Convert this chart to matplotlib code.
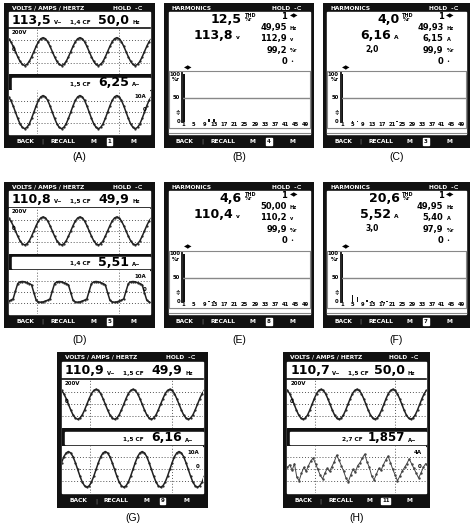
import numpy as np
import matplotlib
matplotlib.use("Agg")
import matplotlib.pyplot as plt
from matplotlib.patches import Rectangle

W, H = 474, 527
fig = plt.figure(figsize=(W/100, H/100), dpi=100)
fig.patch.set_facecolor("white")
FN = ["DejaVu Sans"]

# ---------------- data ----------------
sine_cycle = [0, 0.38, 0.71, 0.92, 1, 0.92, 0.71, 0.38, 0, -0.38, -0.71, -0.92, -1, -0.92, -0.71, -0.38]
dist_cycle = [0.05, 0.5, 0.6, 0.62, 0.6, 0.55, 0.5, 0.42, -0.05, -0.5, -0.6, -0.62, -0.6, -0.55, -0.5, -0.42]
noisy_current = [0.1, 0.25, -0.05, 0.3, -0.4, -0.6, -0.2, 0.1, -0.1, 0.2, 0.45, 0.6, 0.3, 0.0, -0.3, -0.5, -0.2,
                 0.05, -0.1, 0.15, 0.4, 0.75, 0.5, 0.2, -0.1, -0.45, -0.65, -0.3, 0.0, -0.15, 0.2, 0.35, 0.6,
                 0.8, 0.4, 0.1, -0.35, -0.55, -0.25, 0.05, -0.05, 0.25, 0.5, 0.7, 0.35, 0.0, -0.3, -0.6,
                 -0.35, -0.1, 0.1, 0.3, 0.55, 0.3, 0.05, -0.2, -0.45, -0.2, 0.1, 0.3]

volts_panels = {
    "A": dict(v="113,5", cf1="1,4 CF", hz="50,0", cf2="1,5 CF", a="6,25", arange="10A", page="1",
              vphase=0, cur="sine", camp=0.75, cphase=4),
    "D": dict(v="110,8", cf1="1,5 CF", hz="49,9", cf2="1,4 CF", a="5,51", arange="10A", page="5",
              vphase=0, cur="dist", camp=0.75, cphase=0),
    "G": dict(v="110,9", cf1="1,5 CF", hz="49,9", cf2="1,5 CF", a="6,16", arange="10A", page="9",
              vphase=0, cur="sine", camp=0.75, cphase=0),
    "H": dict(v="110,7", cf1="1,5 CF", hz="50,0", cf2="2,7 CF", a="1,857", arange="4A", page="11",
              vphase=0, cur="noisy", camp=0.8, cphase=0),
}

harm_panels = {
    "B": dict(thd="12,5", main="113,8", unit="v", cf="", hz="49,95", rms="112,9 v", pct="99,2",
              page="4", bars={1: 100, 11: 6, 13: 6}),
    "C": dict(thd="4,0", main="6,16", unit="A", cf="2,0", hz="49,93", rms="6,15 A", pct="99,9",
              page="3", bars={1: 100, 5: 1, 7: 1, 23: 1}),
    "E": dict(thd="4,6", main="110,4", unit="v", cf="", hz="50,00", rms="110,2 v", pct="99,9",
              page="8", bars={1: 100, 11: 2, 13: 2}),
    "F": dict(thd="20,6", main="5,52", unit="A", cf="3,0", hz="49,95", rms="5,40 A", pct="97,9",
              page="7", bars={1: 100, 5: 14, 7: 9, 11: 3, 13: 2, 17: 1, 19: 1}),
}
harm_xticks = list(range(1, 50, 4))

boxes = {"A": (4, 3, 155, 148), "B": (164, 3, 314, 148), "C": (323, 3, 470, 148),
         "D": (4, 182, 155, 328), "E": (164, 182, 314, 328), "F": (323, 182, 470, 328),
         "G": (57, 352, 208, 508), "H": (283, 352, 430, 508)}
label_y = {"A": 157, "B": 157, "C": 157, "D": 340, "E": 340, "F": 340, "G": 518, "H": 518}


def px_axes(x0, y0, x1, y1):
    return fig.add_axes([x0/W, 1-y1/H, (x1-x0)/W, (y1-y0)/H])


def sub(box, fx0, fy0, fx1, fy1):
    x0, y0, x1, y1 = box
    w, h = x1-x0, y1-y0
    return px_axes(x0+fx0*w, y0+fy0*h, x0+fx1*w, y0+fy1*h)


def T(ax, x, y, s, size, **kw):
    kw.setdefault("va", "center")
    kw.setdefault("fontweight", "bold")
    return ax.text(x, y, s, fontsize=size, family=FN, zorder=3, **kw)


def frame(box, title, page):
    ax = px_axes(*box)
    ax.set_xlim(0, 1); ax.set_ylim(1, 0); ax.axis("off")
    ax.add_patch(Rectangle((0, 0), 1, 1, color="#111", zorder=0))
    ax.add_patch(Rectangle((0.03, 0.065), 0.94, 0.84, color="white", zorder=1))
    T(ax, 0.05, 0.035, title, 4.2, color="white")
    T(ax, 0.72, 0.035, "HOLD  -⊂", 4.2, color="white")
    by = 0.955
    T(ax, 0.08, by, "BACK", 4.3, color="white")
    T(ax, 0.25, by, "|", 4.3, color="#888", fontweight="normal")
    T(ax, 0.31, by, "RECALL", 4.3, color="white")
    T(ax, 0.57, by, "M", 4.3, color="white")
    T(ax, 0.70, by, page, 4.0, color="#111", ha="center",
      bbox=dict(boxstyle="square,pad=0.15", fc="white", ec="white"))
    T(ax, 0.84, by, "M", 4.3, color="white")
    return ax


def wave_axes(box, fy0, fy1):
    a = sub(box, 0.03, fy0, 0.97, fy1)
    a.set_xlim(0, 1); a.set_ylim(-1, 1)
    a.set_xticks([]); a.set_yticks([])
    for s in a.spines.values():
        s.set_visible(False)
    for yy in (-0.5, 0, 0.5):
        a.axhline(yy, color="#555", lw=0.7, ls=(0, (1, 2)))
    for xx in (0.2, 0.78):
        a.axvline(xx, color="#555", lw=0.7, ls=(0, (1, 2)))
    return a


def plot_cycle(a, cycle, amp, ncyc, shift):
    vals = np.array(cycle * (ncyc + 1)) * amp
    n = len(cycle)
    x = (np.arange(len(vals)) - shift) / (n * 3.85)
    a.plot(x, vals, color="#222", lw=1.1, marker=".", ms=1.2)


for key, p in volts_panels.items():
    b = boxes[key]
    ax = frame(b, "VOLTS / AMPS / HERTZ", p["page"])
    ax.plot([0.03, 0.97], [0.175, 0.175], color="#111", lw=1.2, zorder=2)
    T(ax, 0.05, 0.12, p["v"], 9)
    T(ax, 0.33, 0.135, "V~", 3.8)
    T(ax, 0.44, 0.135, p["cf1"], 4.2)
    T(ax, 0.83, 0.12, p["hz"], 9, ha="right")
    T(ax, 0.85, 0.135, "Hz", 3.8)
    ax.add_patch(Rectangle((0.03, 0.49), 0.94, 0.11, color="#111", zorder=2))
    ax.add_patch(Rectangle((0.05, 0.515), 0.92, 0.075, color="white", zorder=2))
    T(ax, 0.40 if len(p["a"]) > 4 else 0.44, 0.56, p["cf2"], 4.2)
    T(ax, 0.83, 0.55, p["a"], 9 if len(p["a"]) < 5 else 8.5, ha="right")
    T(ax, 0.85, 0.565, "A~", 3.8)

    w1 = wave_axes(b, 0.18, 0.49)
    plot_cycle(w1, sine_cycle, 0.62, 4, 5 + p["vphase"])
    w1.text(0.02, 0.85, "200V", fontsize=4, fontweight="bold", va="center", family=FN)
    w1.text(0.02, 0.1, "0", fontsize=4, fontweight="bold", va="center", family=FN)

    w2 = wave_axes(b, 0.6, 0.905)
    if p["cur"] == "sine":
        plot_cycle(w2, sine_cycle, p["camp"], 4, 1 + p["cphase"])
    elif p["cur"] == "dist":
        plot_cycle(w2, dist_cycle, p["camp"], 4, 13)
    else:
        vals = np.array(noisy_current) * p["camp"]
        x = np.linspace(0, 1, len(vals))
        w2.plot(x, vals, color="#444", lw=0.7, marker=".", ms=1.5)
    w2.text(0.97, 0.7, p["arange"], fontsize=4, fontweight="bold", va="center", ha="right", family=FN)
    w2.text(0.97, 0.12, "0", fontsize=4, fontweight="bold", va="center", ha="right", family=FN)

for key, p in harm_panels.items():
    b = boxes[key]
    ax = frame(b, "HARMONICS", p["page"])
    T(ax, 0.52, 0.115, p["thd"], 9, ha="right")
    T(ax, 0.54, 0.1, "THD\n%r", 3.5, linespacing=0.9)
    T(ax, 0.46, 0.225, p["main"], 9, ha="right")
    T(ax, 0.48, 0.235, p["unit"], 4.2)
    if p["cf"]:
        T(ax, 0.38, 0.32, p["cf"], 5.5, ha="right")
    rx = 0.82
    T(ax, rx, 0.09, "1", 6, ha="right")
    T(ax, rx + 0.02, 0.09, "◀▶", 4, fontweight="normal")
    T(ax, rx, 0.17, p["hz"], 6, ha="right")
    T(ax, rx + 0.02, 0.175, "Hz", 3.6)
    r, u = p["rms"].split()
    T(ax, rx, 0.245, r, 6, ha="right")
    T(ax, rx + 0.02, 0.25, u, 3.6)
    T(ax, rx, 0.325, p["pct"], 6, ha="right")
    T(ax, rx + 0.02, 0.33, "%r", 3.6)
    T(ax, rx, 0.4, "0", 6, ha="right")
    T(ax, rx + 0.02, 0.4, "•", 3.6, fontweight="normal")
    T(ax, 0.13, 0.445, "◀▶", 4, fontweight="normal")
    ax.plot([0.03, 0.97], [0.86, 0.86], color="#888", lw=0.8, zorder=2)
    ax.plot([0.03, 0.97], [0.9, 0.9], color="#888", lw=0.8, zorder=2)

    h = sub(b, 0.03, 0.47, 0.97, 0.86)
    h.set_facecolor("white")
    for s in h.spines.values():
        s.set_color("#888"); s.set_linewidth(0.8)
    h.set_xlim(-5, 50.5); h.set_ylim(-12, 106)
    orders = list(p["bars"].keys())
    vals = list(p["bars"].values())
    h.bar(orders, vals, width=0.6, color="#111")
    h.plot([0.5, 50.5], [50, 50], color="#888", lw=1)
    h.plot([0.4, 0.4], [0, 106], color="#111", lw=1.3)
    h.set_xticks([]); h.set_yticks([])
    for t in harm_xticks:
        h.text(t, -6, str(t), fontsize=3.8, fontweight="bold", ha="center", va="center", family=FN)
    for yv, lab in ((100, "100"), (88, "%r"), (50, "50"), (22, "≑"), (0, "0")):
        h.text(-0.4, yv, lab, fontsize=3.8, fontweight="bold", ha="right", va="center", family=FN)

for key, b in boxes.items():
    fig.text(((b[0] + b[2]) / 2) / W, 1 - label_y[key] / H, f"({key})", ha="center", va="center",
             fontsize=7.5, family=["Liberation Sans", "DejaVu Sans"])

fig.savefig("out.png", dpi=100, facecolor="white")
